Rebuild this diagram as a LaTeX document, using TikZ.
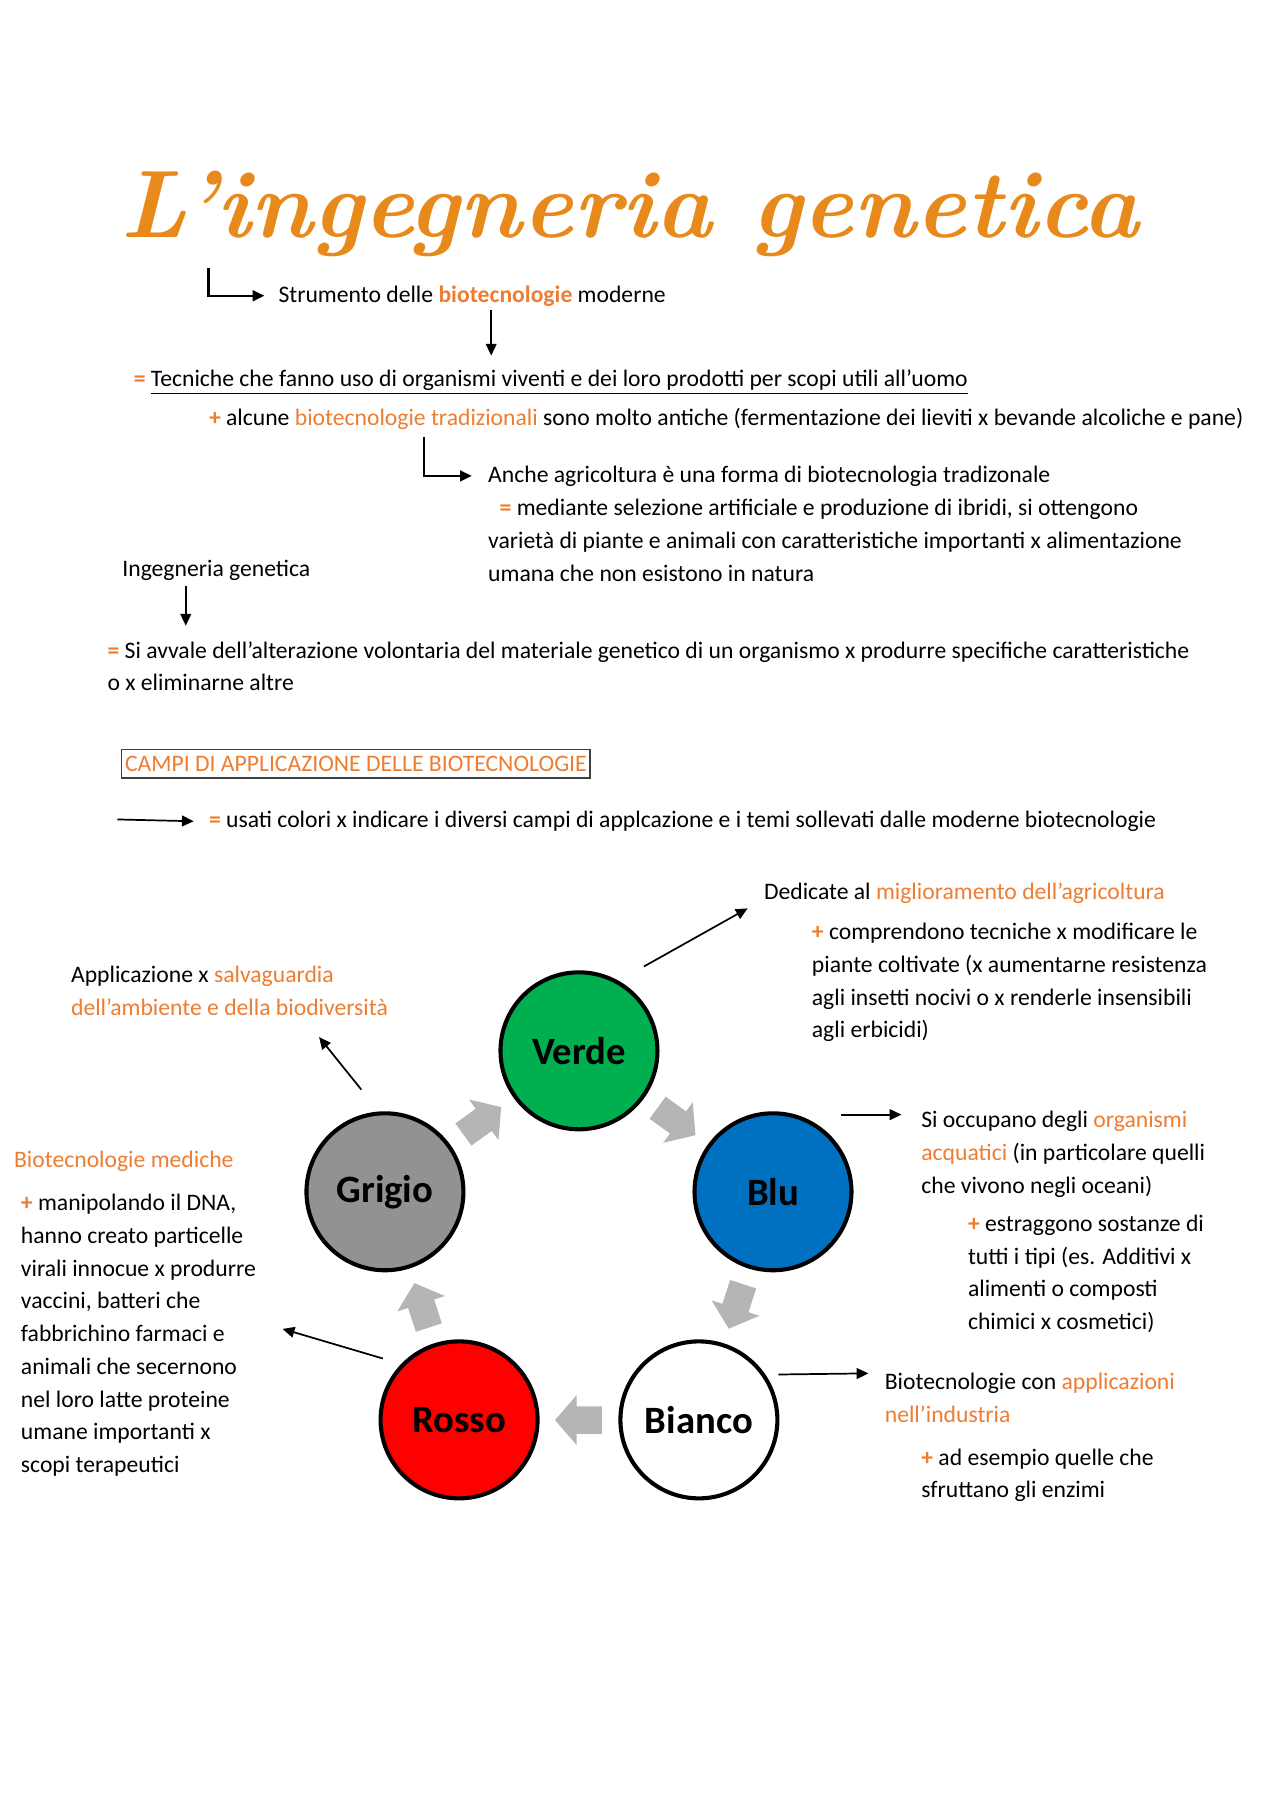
\documentclass[tikz,border=0pt]{standalone}
\usepackage{fontspec}
\setmainfont{Carlito}
\newfontfamily\titlefont{lmroman10-bolditalic.otf}
\usetikzlibrary{calc,arrows.meta}

\definecolor{acc}{HTML}{ED7D31}
\definecolor{titleor}{HTML}{E8891C}
\definecolor{verdec}{HTML}{00B050}
\definecolor{bluc}{HTML}{0070C0}
\definecolor{rossoc}{HTML}{FF0000}
\definecolor{grigioc}{HTML}{929292}
\definecolor{freccia}{HTML}{B5B5B5}

\newcommand{\hl}[1]{\textcolor{acc}{#1}}
\newcommand{\hlb}[1]{\textcolor{acc}{\textbf{#1}}}
% block arrow of the cycle: position, direction
\newcommand{\blockarrow}[2]{\fill[freccia, shift={#1}, rotate=#2] (-20,-12) -- (2,-12) -- (2,-22) -- (21,0) -- (2,22) -- (2,12) -- (-20,12) -- cycle;}

\tikzset{
	txt/.style={anchor=base west, inner sep=0pt, font=\fontsize{11}{15.2}\selectfont},
	para/.style={anchor=north west, inner sep=0pt, align=left, font=\fontsize{11}{15.2}\selectfont},
	conn/.style={-{Triangle[length=5.5pt,width=5pt]}, line width=0.8pt},
	elbow/.style={-{Triangle[length=5.5pt,width=5pt]}, line width=1.1pt},
	circ/.style={circle, draw=black, line width=1.9pt, minimum size=73pt, inner sep=0pt, font=\fontsize{18}{22}\selectfont\bfseries},
	titlebox/.style={draw=black!75, line width=0.7pt, inner xsep=1.6pt, inner ysep=3pt, anchor=west, text=acc, font=\fontsize{11}{13}\selectfont},
}

\begin{document}
\begin{tikzpicture}[x=0.53pt, y=-0.53pt]
			%%%%% START %%%%%
			\useasboundingbox[fill=white] (0,0) rectangle (1123,1589);
			
			\node[txt] (titolo) at (105,208) {\color{titleor}\resizebox{474pt}{!}{\titlefont L\kern-0.05em’ingegneria genetica}};
			
			\node[txt] (strum) at (244,265) {Strumento delle \hlb{biotecnologie} moderne};
			\coordinate (e1) at (183,235);
			\draw[elbow] (e1) |- ($(strum.west)+(-12,0)$);
			
			\coordinate (d1) at (431,272);
			\coordinate (d2) at (431,312);
			\draw[conn] (d1) -- (d2);
			
			\node[txt] (tecn) at (117,339) {\hlb{=} \underline{Tecniche che fanno uso di organismi viventi e dei loro prodotti per scopi utili all’uomo}};
			\node[txt] (alcune) at (183,373) {\hlb{+} alcune \hl{biotecnologie tradizionali} sono molto antiche (fermentazione dei lieviti x bevande alcoliche e pane)};
			
			\node[txt] (anche) at (428,423) {Anche agricoltura è una forma di biotecnologia tradizonale};
			\coordinate (e2) at (372,383);
			\draw[elbow] (e2) |- ($(anche.west)+(-14,0)$);
			\node[txt] (medi) at (438,452) {\hlb{=} mediante selezione artificiale e produzione di ibridi, si ottengono};
			\node[para] (vari) at (428,461) {\strut varietà di piante e animali con caratteristiche importanti x alimentazione\\umana che non esistono in natura};
			
			\node[txt] (ingen) at (107,506) {Ingegneria genetica};
			\coordinate (d3) at (163,514);
			\coordinate (d4) at (163,549);
			\draw[conn] (d3) -- (d4);
			\node[para] (avvale) at (94,557) {\strut\hlb{=} Si avvale dell’alterazione volontaria del materiale genetico di un organismo x produrre specifiche caratteristiche\\o x eliminarne altre};
			
			\node[titlebox] (campi) at (106,670) {CAMPI DI APPLICAZIONE DELLE BIOTECNOLOGIE};
			
			\node[txt] (usati) at (183,726) {\hlb{=} usati colori x indicare i diversi campi di applcazione e i temi sollevati dalle moderne biotecnologie};
			\coordinate (l1) at (103,719);
			\draw[conn] (l1) -- ($(usati.west)+(-13,0)$);
			
			%%%%% CYCLE %%%%%
			\coordinate (cyc) at (508,1101);
			\node[circ, fill=verdec] (verde) at ($(cyc)+(0,-179)$) {Verde};
			\node[circ, fill=bluc] (blu) at ($(cyc)+({179*cos(18)},{-179*sin(18)})$) {Blu};
			\node[circ, fill=white] (bianco) at ($(cyc)+({179*cos(-54)},{-179*sin(-54)})$) {Bianco};
			\node[circ, fill=rossoc] (rosso) at ($(cyc)+({179*cos(-126)},{-179*sin(-126)})$) {Rosso};
			\node[circ, fill=grigioc] (grigio) at ($(cyc)+({179*cos(162)},{-179*sin(162)})$) {Grigio};
			
			\foreach \a/\d in {54/-36, -18/-108, -90/180, -162/108, 126/36}{
				\blockarrow{($(cyc)+({145*cos(\a)},{-145*sin(\a)})$)}{\d}
			}
			
			%%%%% VERDE %%%%%
			\node[txt] (verT) at (670,789) {Dedicate al \hl{miglioramento dell’agricoltura}};
			\node[para] (verP) at (712,804) {\strut\hlb{+} comprendono tecniche x modificare le\\piante coltivate (x aumentarne resistenza\\agli insetti nocivi o x renderle insensibili\\agli erbicidi)};
			\coordinate (verA) at (565,848);
			\coordinate (verB) at (656,797);
			\draw[conn] (verA) -- (verB);
			
			%%%%% BLU %%%%%
			\node[para] (bluT) at (808,969) {\strut Si occupano degli \hl{organismi}\\\hl{acquatici} (in particolare quelli\\che vivono negli oceani)};
			\node[para] (bluP) at (849,1060) {\strut\hlb{+} estraggono sostanze di\\tutti i tipi (es. Additivi x\\alimenti o composti\\chimici x cosmetici)};
			\coordinate (bluA) at (738,978);
			\coordinate (bluB) at (791,978);
			\draw[conn] (bluA) -- (bluB);
			
			%%%%% BIANCO %%%%%
			\node[para] (biaT) at (776,1199) {\strut Biotecnologie con \hl{applicazioni}\\\hl{nell’industria}};
			\node[para] (biaP) at (808,1265) {\strut\hlb{+} ad esempio quelle che\\sfruttano gli enzimi};
			\coordinate (biaA) at (683,1206);
			\coordinate (biaB) at (762,1205);
			\draw[conn] (biaA) -- (biaB);
			
			%%%%% ROSSO %%%%%
			\node[txt] (rosT) at (12,1024) {\hl{Biotecnologie mediche}};
			\node[para] (rosP) at (18,1042) {\strut\hlb{+} manipolando il DNA,\\hanno creato particelle\\virali innocue x produrre\\vaccini, batteri che\\fabbrichino farmaci e\\animali che secernono\\nel loro latte proteine\\umane importanti x\\scopi terapeutici};
			\coordinate (rosA) at (336,1192);
			\coordinate (rosB) at (248,1166);
			\draw[conn] (rosA) -- (rosB);
			
			%%%%% GRIGIO %%%%%
			\node[para] (griT) at (62,842) {\strut Applicazione x \hl{salvaguardia}\\\hl{dell’ambiente e della biodiversità}};
			\coordinate (griA) at (317,956);
			\coordinate (griB) at (280,910);
			\draw[conn] (griA) -- (griB);
			
			%%%%% END %%%%%
\end{tikzpicture}
\end{document}
